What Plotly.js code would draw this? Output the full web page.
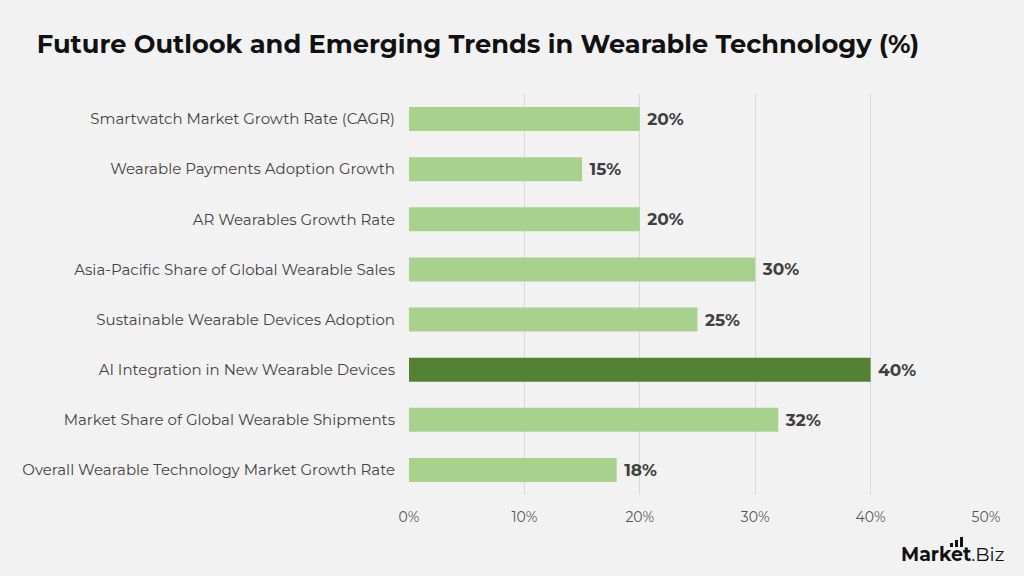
<!DOCTYPE html>
<html>
<head>
<meta charset="utf-8">
<script src="https://cdn.plot.ly/plotly-3.0.1.min.js"></script>
<style>
  html, body { margin: 0; padding: 0; background: #f2f2f2; }
  #chart { width: 1024px; height: 576px; }
</style>
</head>
<body>
<div id="chart"></div>
<script>
// Categories listed bottom to top (Plotly draws the first category at the bottom)
const categories = [
  "Overall Wearable Technology Market Growth Rate",
  "Market Share of Global Wearable Shipments",
  "AI Integration in New Wearable Devices",
  "Sustainable Wearable Devices Adoption",
  "Asia-Pacific Share of Global Wearable Sales",
  "AR Wearables Growth Rate",
  "Wearable Payments Adoption Growth",
  "Smartwatch Market Growth Rate (CAGR)"
];
const values = [18, 32, 40, 25, 30, 20, 15, 20];
const highlighted = "AI Integration in New Wearable Devices";
const tickValues = [0, 10, 20, 30, 40, 50];
const tickLabels = ["0%", "10%", "20%", "30%", "40%", "50%"];

const lightGreen = "#a9d18e";
const darkGreen = "#548235";
const barColors = categories.map(c => c === highlighted ? darkGreen : lightGreen);

const font = "Montserrat, 'Open Sans', 'Noto Sans', sans-serif";

// Plot area in pixels, used to place the logo pieces in paper coordinates
const plotLeft = 409, plotRight = 986, plotTop = 94, plotBottom = 495;
const px = x => (x - plotLeft) / (plotRight - plotLeft);
const py = y => (plotBottom - y) / (plotBottom - plotTop);

const trace = {
  type: "bar",
  orientation: "h",
  y: categories,
  x: values,
  marker: { color: barColors },
  width: 0.48,
  text: values.map(v => "&nbsp;<b>" + v + "%</b>"),
  textposition: "outside",
  textfont: { family: font, size: 17, color: "#404040" },
  cliponaxis: false,
  hoverinfo: "none"
};

// small signal bars above the "ke" of the logo
const logoBars = [
  { x0: 950, x1: 953, y0: 547, y1: 543 },
  { x0: 955, x1: 958, y0: 547, y1: 540 },
  { x0: 960, x1: 963, y0: 547, y1: 537 }
].map(b => ({
  type: "rect", xref: "paper", yref: "paper",
  x0: px(b.x0), x1: px(b.x1), y0: py(b.y0), y1: py(b.y1),
  fillcolor: "#111111", line: { width: 0 }
}));

const layout = {
  width: 1024,
  height: 576,
  paper_bgcolor: "#f2f2f2",
  plot_bgcolor: "#f2f2f2",
  margin: { l: plotLeft, r: 1024 - plotRight, t: plotTop, b: 576 - plotBottom },
  showlegend: false,
  title: {
    text: "<b>Future Outlook and Emerging Trends in Wearable Technology (%)</b>",
    x: 0.036, xanchor: "left",
    y: 0.924, yanchor: "middle",
    font: { family: font, size: 25.7, color: "#111111" }
  },
  xaxis: {
    range: [0, 50],
    tickvals: tickValues,
    ticktext: tickLabels,
    showgrid: true,
    gridcolor: "#d9d9d9",
    gridwidth: 1,
    zeroline: false,
    showline: false,
    ticks: "",
    ticklabelstandoff: 12,
    tickfont: { family: font, size: 14, color: "#555555" },
    fixedrange: true
  },
  yaxis: {
    categoryorder: "array",
    categoryarray: categories,
    showgrid: false,
    zeroline: false,
    showline: false,
    ticks: "",
    ticklabelstandoff: 13,
    tickfont: { family: font, size: 15, color: "#444444" },
    fixedrange: true
  },
  shapes: logoBars,
  annotations: [
    {
      text: "<b>Market</b>.Biz",
      xref: "paper", yref: "paper",
      x: px(1006), y: py(554),
      xanchor: "right", yanchor: "middle",
      showarrow: false,
      font: { family: font, size: 19, color: "#111111" }
    }
  ]
};

Plotly.newPlot("chart", [trace], layout, { displayModeBar: false, staticPlot: true });
</script>
</body>
</html>
